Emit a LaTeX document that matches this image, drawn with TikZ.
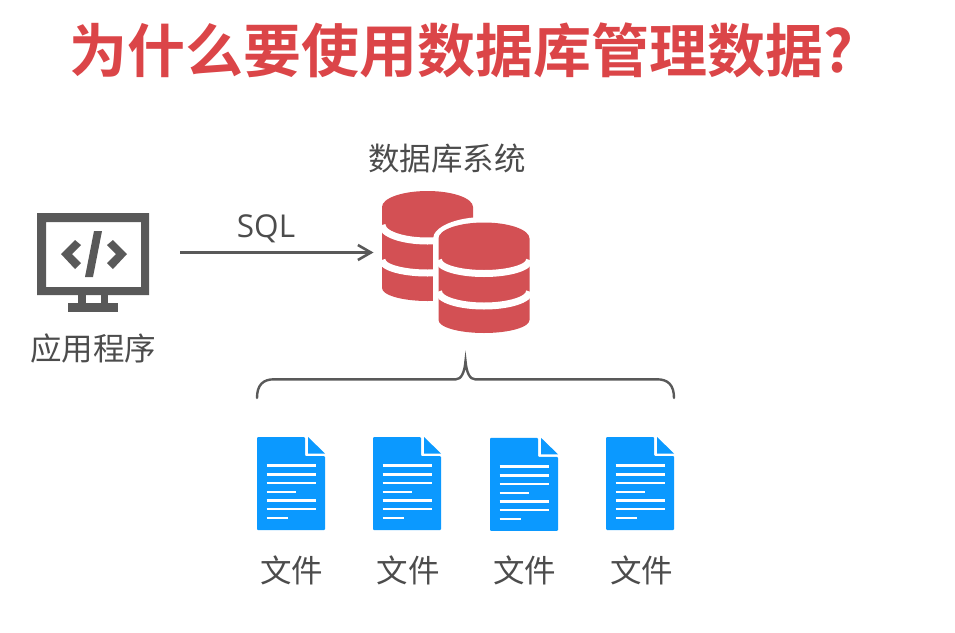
\documentclass[tikz,border=0pt]{standalone}
\usepackage{fontspec}
\usetikzlibrary{arrows.meta}
\newfontfamily\cjk{Noto Sans CJK SC}
\newfontfamily\cjkgras{Noto Sans CJK SC Bold}
\newfontfamily\latin{Open Sans}
\definecolor{rouge}{HTML}{DB4548}
\definecolor{rougebd}{HTML}{D35054}
\definecolor{gris}{HTML}{595959}
\definecolor{bleu}{HTML}{0B99FF}
\tikzset{
  titre/.style={text=rouge,font=\cjkgras\fontsize{58}{58}\selectfont,inner sep=0pt},
  legende/.style={text=gris!85!black,font=\cjk\fontsize{31.5}{31.5}\selectfont,inner sep=0pt},
  bande/.style={draw=white,line width=7pt},
  trait/.style={draw=gris,line width=2.6pt},
  ligne/.style={draw=white,line width=2.6pt}
}
% Cylindre : x gauche, y haut, y bas
\newcommand{\cylindre}[3]{
  \fill[rougebd] (#1,#2+16) arc[start angle=180,end angle=0,x radius=45.5pt,y radius=16pt]
    -- (#1+91,#3-13) arc[start angle=0,end angle=-180,x radius=45.5pt,y radius=13pt] -- cycle;
}
\begin{document}
\begin{tikzpicture}[x=1pt,y=-1pt]
\useasboundingbox (0,0) rectangle (955,632);

% Titre
\node[titre] (titre) at (461,50) {为什么要使用数据库管理数据?};

% Ecran
\fill[gris,even odd rule] (37,213) rectangle (149,295) (46,222) rectangle (141,287);
\fill[gris] (78,295) rectangle (86,304);
\fill[gris] (101,295) rectangle (108,304);
\fill[gris] (68,303) rectangle (118,312);
\fill[gris] (61,254) -- (75,240) -- (81,245) -- (72,254) -- (81,263) -- (75,269) -- cycle;
\fill[gris] (127,254) -- (113,240) -- (107,245) -- (116,254) -- (107,263) -- (113,269) -- cycle;
\fill[gris] (94,231) -- (102,231) -- (93,277) -- (85,277) -- cycle;
\node[legende] (appli) at (93,349) {应用程序};

% Base arriere
\cylindre{382}{191}{301}
\draw[bande] (382,225) arc[start angle=180,end angle=360,x radius=45.5pt,y radius=16pt];
\draw[bande] (382,260) arc[start angle=180,end angle=360,x radius=45.5pt,y radius=13pt];

% Decoupe blanche
\fill[white] (432.5,239) rectangle (536,340);
\fill[white] (484.5,239) ellipse[x radius=51.5pt,y radius=22pt];

% Base avant
\cylindre{438.5}{222.5}{333}
\draw[bande] (438.5,260) arc[start angle=180,end angle=360,x radius=45.5pt,y radius=13.5pt];
\draw[bande] (438.5,291.5) arc[start angle=180,end angle=360,x radius=45.5pt,y radius=14.5pt];

\node[legende] (base) at (447,159) {数据库系统};

% Fleche SQL
\coordinate (depart) at (180,252.5);
\coordinate (arrivee) at (373.5,252.5);
\draw[trait,-{Straight Barb[length=13pt,width=15pt]}] (depart) -- (arrivee);
\node[text=gris!85!black,font=\latin\fontsize{31.5}{31.5}\selectfont,inner sep=0pt,anchor=base] (sql) at (266,237) {SQL};

% Accolade
\draw[trait,line width=2.4pt,line cap=round] (257,398) .. controls (257,385) and (263,379.3) .. (274,379.3)
  -- (456,379.3) .. controls (461,379.3) and (464.5,373) .. (465.5,361)
  .. controls (466.5,373) and (470,379.3) .. (475,379.3)
  -- (657,379.3) .. controls (668,379.3) and (674,385) .. (674,398);

% Fichiers
\foreach \x/\h/\t/\nom in {257/437/291.5/a,373/437/408/b,490/437.8/524.5/c,606/437/641.7/d}{
  \fill[bleu,rounded corners=1pt] (\x,\h) -- (\x+48,\h) -- (\x+48,\h+19) -- (\x+68,\h+19) -- (\x+68,\h+93) -- (\x,\h+93) -- cycle;
  \fill[bleu] (\x+51,\h) -- (\x+68,\h+16.5) -- (\x+51,\h+16.5) -- cycle;
  \foreach \y/\l in {28.5/49.5,37.5/49.5,46/49.5,55/29.5,63.5/49.5,72/49.5,81/21.5}
    \draw[ligne] (\x+9.5,\h+\y) -- (\x+9.5+\l,\h+\y);
  \node[legende] (fichier\nom) at (\t,570.5) {文件};
}

\end{tikzpicture}
\end{document}
